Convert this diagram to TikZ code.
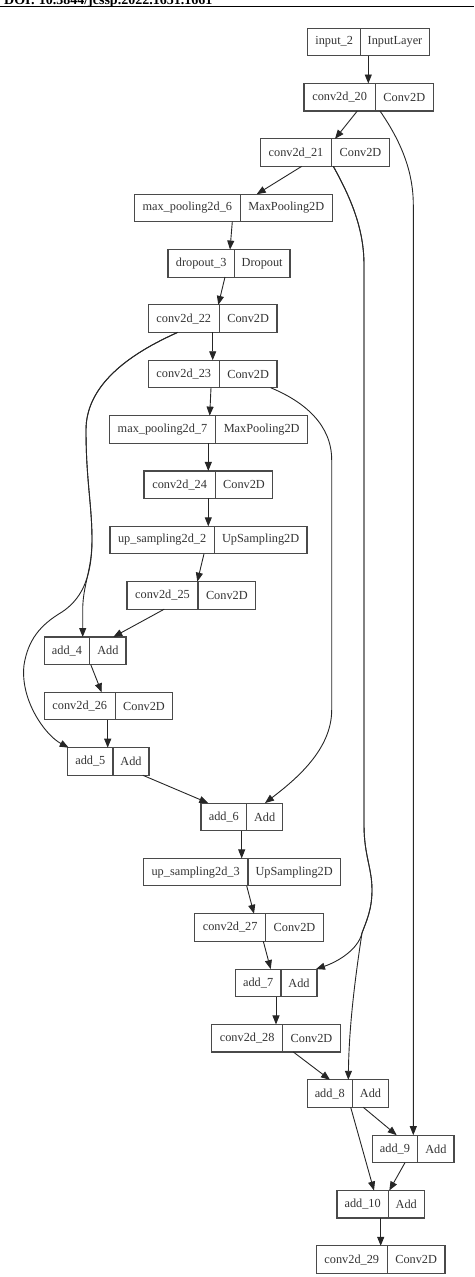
\documentclass[tikz,border=0pt]{standalone}
\usepackage{fontspec}
\setmainfont{Liberation Serif}
\usetikzlibrary{arrows.meta,fit}
\definecolor{ink}{HTML}{333333}
\definecolor{edge}{HTML}{4A4A4A}
\tikzset{
  part/.style={draw=edge, line width=1.1pt, inner sep=0pt, outer sep=0pt,
    minimum height=27.5pt, font=\fontsize{12.3}{14}\selectfont, text=ink, anchor=west},
  whole/.style={inner sep=0pt, outer sep=0pt},
  link/.style={draw=black!85, line width=0.9pt, -{Triangle[length=9pt,width=7pt]}},
}
\newcommand\layer[7]{%
  \pgfmathsetmacro\yc{41.9+55.35*#2}%
  \pgfmathsetmacro\wa{#4-#3}%
  \pgfmathsetmacro\wb{#5-#4}%
  \node[part, minimum width=\wa pt] (#1-a) at (#3,\yc) {#6};
  \node[part, minimum width=\wb pt] (#1-b) at (#4,\yc) {#7};
  \node[whole, fit=(#1-a)(#1-b)] (#1) {};
}
\begin{document}
\begin{tikzpicture}[x=1pt,y=-1pt]
\useasboundingbox (0,0) rectangle (474,1277);
% header
\node[anchor=base west, inner sep=0pt, font=\bfseries\fontsize{14}{16}\selectfont] (doi) at (4,4.5) {DOI: 10.3844/jcssp.2022.1651.1661};
\draw[line width=1.2pt] (0,6.2) -- (474,6.2);
% layers
\layer{in2}{0}{307.7}{360.7}{429.3}{input\_2}{InputLayer}
\layer{c20}{1}{304}{375.3}{433.3}{conv2d\_20}{Conv2D}
\layer{c21}{2}{260.3}{331.7}{389.3}{conv2d\_21}{Conv2D}
\layer{mp6}{3}{134.3}{240.3}{332.3}{max\_pooling2d\_6}{MaxPooling2D}
\layer{dr3}{4}{168}{234.3}{290}{dropout\_3}{Dropout}
\layer{c22}{5}{148.3}{219.3}{277}{conv2d\_22}{Conv2D}
\layer{c23}{6}{148.3}{219.3}{277}{conv2d\_23}{Conv2D}
\layer{mp7}{7}{109.3}{215.7}{307.7}{max\_pooling2d\_7}{MaxPooling2D}
\layer{c24}{8}{144}{215.3}{272.7}{conv2d\_24}{Conv2D}
\layer{up2}{9}{110}{214.3}{307}{up\_sampling2d\_2}{UpSampling2D}
\layer{c25}{10}{127}{198}{255.7}{conv2d\_25}{Conv2D}
\layer{a4}{11}{44.3}{89.7}{126}{add\_4}{Add}
\layer{c26}{12}{44.3}{115.3}{172.7}{conv2d\_26}{Conv2D}
\layer{a5}{13}{67.7}{113}{149}{add\_5}{Add}
\layer{a6}{14}{201}{246.7}{282.7}{add\_6}{Add}
\layer{up3}{15}{143.3}{248}{340.3}{up\_sampling2d\_3}{UpSampling2D}
\layer{c27}{16}{194.7}{265.7}{323.3}{conv2d\_27}{Conv2D}
\layer{a7}{17}{235.3}{281}{317}{add\_7}{Add}
\layer{c28}{18}{211.7}{282.7}{340.3}{conv2d\_28}{Conv2D}
\layer{a8}{19}{307.3}{352.3}{388.7}{add\_8}{Add}
\layer{a9}{20}{372.3}{417.7}{454}{add\_9}{Add}
\layer{a10}{21}{337}{388.3}{424.3}{add\_10}{Add}
\layer{c29}{22}{316.3}{387.3}{445}{conv2d\_29}{Conv2D}
% connectors
\draw[link] ([xshift=60.6pt]in2.south west) -- ([xshift=64.3pt]c20.north west);
\draw[link] ([xshift=53.3pt]c20.south west) -- ([xshift=74.7pt]c21.north west);
\draw[link] ([xshift=76pt]c20.south west) .. controls (400,140) and (413.3,170) .. (413.3,205) -- ([xshift=41pt]a9.north west);
\draw[link] ([xshift=41.4pt]c21.south west) -- ([xshift=122.4pt]mp6.north west);
\draw[link] ([xshift=73pt]c21.south west) .. controls (352,200) and (364,230) .. (364,265) -- (364,825)
  .. controls (364,855) and (372,868) .. (372,890) .. controls (372,910) and (366,922) .. (362,933)
  .. controls (358,950) and (337,962) .. ([xshift=-1pt]a7.north east);
\draw[link] ([xshift=73pt]c21.south west) .. controls (352,200) and (364,230) .. (364,265) -- (364,825)
  .. controls (364,855) and (372,868) .. (372,890) .. controls (372,910) and (366,922) .. (362,933)
  .. controls (354,985) and (349,1030) .. ([xshift=41pt]a8.north west);
\draw[link] ([xshift=98pt]mp6.south west) -- ([xshift=62pt]dr3.north west);
\draw[link] ([xshift=57pt]dr3.south west) -- ([xshift=70pt]c22.north west);
\draw[link] ([xshift=64.4pt]c22.south west) -- ([xshift=64.4pt]c23.north west);
\draw[link] ([xshift=29.4pt]c22.south west) .. controls (120,358) and (86,390) .. (86,430)
  .. controls (86,480) and (92,505) .. (92,540) .. controls (92,570) and (82.7,585) .. (82.7,610)
  -- ([xshift=38.4pt]a4.north west);
\draw[link] ([xshift=29.4pt]c22.south west) .. controls (120,358) and (86,390) .. (86,430)
  .. controls (86,480) and (92,505) .. (92,540) .. controls (92,580) and (80,600) .. (62,612)
  .. controls (40,625) and (28,640) .. (24,665) .. controls (20,700) and (45,735) .. ([xshift=1pt]a5.north west);
\draw[link] ([xshift=62.7pt]c23.south west) -- ([xshift=100.4pt]mp7.north west);
\draw[link] ([xshift=122.4pt]c23.south west) .. controls (305,402) and (331.7,425) .. (331.7,460)
  -- (331.7,710) .. controls (331.7,750) and (295,780) .. ([xshift=64pt]a6.north west);
\draw[link] ([xshift=99pt]mp7.south west) -- ([xshift=64.3pt]c24.north west);
\draw[link] ([xshift=64.3pt]c24.south west) -- ([xshift=98.3pt]up2.north west);
\draw[link] ([xshift=94pt]up2.south west) -- ([xshift=70.3pt]c25.north west);
\draw[link] ([xshift=37.3pt]c25.south west) -- ([xshift=69pt]a4.north west);
\draw[link] ([xshift=46.4pt]a4.south west) -- ([xshift=57.4pt]c26.north west);
\draw[link] ([xshift=63.4pt]c26.south west) -- ([xshift=40pt]a5.north west);
\draw[link] ([xshift=75pt]a5.south west) -- ([xshift=7.3pt]a6.north west);
\draw[link] ([xshift=40.7pt]a6.south west) -- ([xshift=98.4pt]up3.north west);
\draw[link] ([xshift=103.4pt]up3.south west) -- ([xshift=59.3pt]c27.north west);
\draw[link] ([xshift=68.6pt]c27.south west) -- ([xshift=35.4pt]a7.north west);
\draw[link] ([xshift=40.7pt]a7.south west) -- ([xshift=64.3pt]c28.north west);
\draw[link] ([xshift=81.6pt]c28.south west) -- ([xshift=22.7pt]a8.north west);
\draw[link] ([xshift=56pt]a8.south west) -- ([xshift=24.4pt]a9.north west);
\draw[link] ([xshift=43.4pt]a8.south west) -- ([xshift=37pt]a10.north west);
\draw[link] ([xshift=32.7pt]a9.south west) -- ([xshift=52.3pt]a10.north west);
\draw[link] ([xshift=43.7pt]a10.south west) -- ([xshift=64.4pt]c29.north west);
\end{tikzpicture}
\end{document}
